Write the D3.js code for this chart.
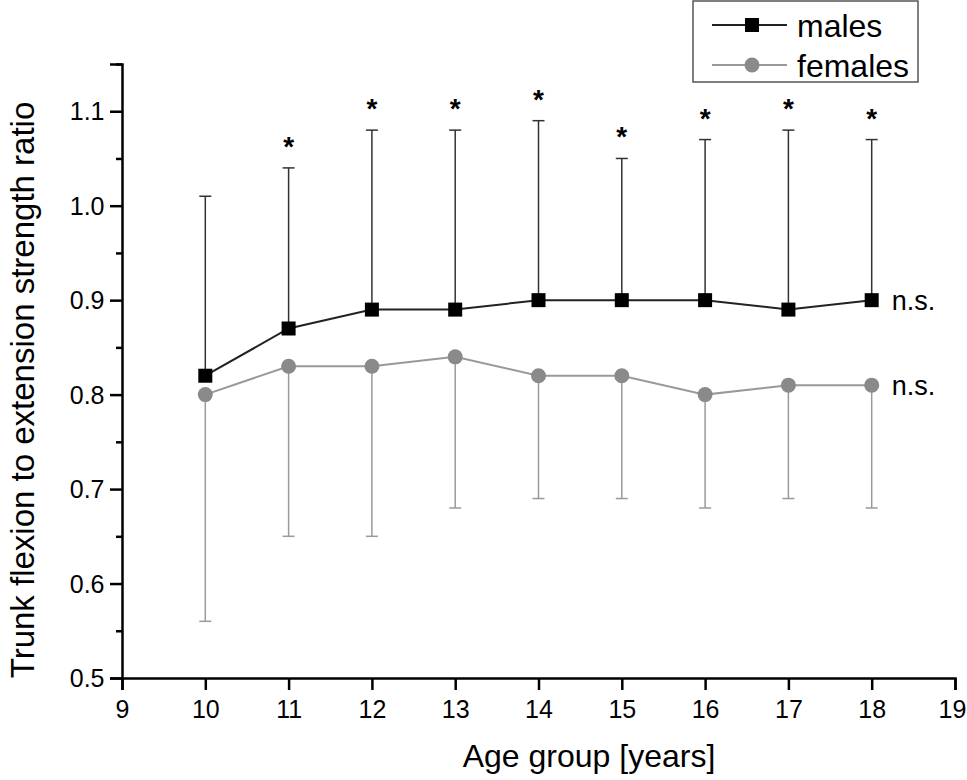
<!DOCTYPE html>
<html>
<head>
<meta charset="utf-8">
<script src="https://cdn.jsdelivr.net/npm/d3@7"></script>
<style>
  body { margin: 0; background: #fff; }
  text { font-family: "Liberation Sans", Arial, sans-serif; }
</style>
</head>
<body>
<svg id="chart" width="967" height="780"></svg>
<script>
// data
const ages = [10, 11, 12, 13, 14, 15, 16, 17, 18];
const malesMean = [0.82, 0.87, 0.89, 0.89, 0.90, 0.90, 0.90, 0.89, 0.90];
const malesUpper = [1.01, 1.04, 1.08, 1.08, 1.09, 1.05, 1.07, 1.08, 1.07];
const femalesMean = [0.80, 0.83, 0.83, 0.84, 0.82, 0.82, 0.80, 0.81, 0.81];
const femalesLower = [0.56, 0.65, 0.65, 0.68, 0.69, 0.69, 0.68, 0.69, 0.68];
const significant = [false, true, true, true, true, true, true, true, true];
const xTicks = [9, 10, 11, 12, 13, 14, 15, 16, 17, 18, 19];
const yTicks = [0.5, 0.6, 0.7, 0.8, 0.9, 1.0, 1.1];

const svg = d3.select('#chart');

const x = d3.scaleLinear().domain([9, 19]).range([122, 955]);
const y = d3.scaleLinear().domain([0.5, 1.15]).range([678, 64]);

const maleCol = '#000';
const femaleCol = '#8a8a8a';

const males = ages.map((a, i) => ({ age: a, v: malesMean[i], hi: malesUpper[i], sig: significant[i] }));
const females = ages.map((a, i) => ({ age: a, v: femalesMean[i], lo: femalesLower[i] }));

// axes
const xAxis = svg.append('g')
  .attr('transform', `translate(0, ${y(0.5)})`)
  .call(d3.axisBottom(x).tickValues(xTicks).tickFormat(d3.format('d')).tickSizeOuter(0).tickSize(12));

const yMinor = d3.range(0.55, 1.16, 0.1).map(d => +d.toFixed(2));
svg.append('g')
  .attr('transform', `translate(${x(9)}, 0)`)
  .call(d3.axisLeft(y).tickValues(yMinor).tickFormat('').tickSizeOuter(0).tickSize(6))
  .select('.domain').remove();

const yAxis = svg.append('g')
  .attr('transform', `translate(${x(9)}, 0)`)
  .call(d3.axisLeft(y).tickValues(yTicks).tickFormat(d3.format('.1f')).tickSizeOuter(0).tickSize(12));

svg.selectAll('.domain, .tick line').attr('stroke', '#000').attr('stroke-width', 2.5);
xAxis.selectAll('text').attr('font-size', 25).attr('dy', '1.0em').attr('fill', '#000');
// last label sits right at the page edge
xAxis.selectAll('.tick text').filter(d => d === 19).attr('dx', '-0.12em');
yAxis.selectAll('text').attr('font-size', 25).attr('dx', '-0.1em').attr('dy', '0.35em').attr('fill', '#000');
svg.selectAll('.tick text').attr('font-family', '"Liberation Sans", Arial, sans-serif');

// axis titles
svg.append('text')
  .attr('x', 589).attr('y', 767)
  .attr('text-anchor', 'middle')
  .attr('font-size', 32)
  .text('Age group [years]');

svg.append('text')
  .attr('transform', 'translate(34, 390) rotate(-90)')
  .attr('text-anchor', 'middle')
  .attr('font-size', 33)
  .text('Trunk flexion to extension strength ratio');

// error bars
const capW = 6;
const femErr = svg.append('g').attr('stroke', '#9a9a9a').attr('stroke-width', 1.5);
femErr.selectAll('.stem').data(females).enter().append('line')
  .attr('x1', d => x(d.age)).attr('x2', d => x(d.age))
  .attr('y1', d => y(d.v)).attr('y2', d => y(d.lo));
femErr.selectAll('.cap').data(females).enter().append('line')
  .attr('x1', d => x(d.age) - capW).attr('x2', d => x(d.age) + capW)
  .attr('y1', d => y(d.lo)).attr('y2', d => y(d.lo));

const maleErr = svg.append('g').attr('stroke', '#333').attr('stroke-width', 1.5);
maleErr.selectAll('.stem').data(males).enter().append('line')
  .attr('x1', d => x(d.age)).attr('x2', d => x(d.age))
  .attr('y1', d => y(d.v)).attr('y2', d => y(d.hi));
maleErr.selectAll('.cap').data(males).enter().append('line')
  .attr('x1', d => x(d.age) - capW).attr('x2', d => x(d.age) + capW)
  .attr('y1', d => y(d.hi)).attr('y2', d => y(d.hi));

// lines
const line = d3.line().x(d => x(d.age)).y(d => y(d.v));
svg.append('path').datum(females).attr('d', line)
  .attr('fill', 'none').attr('stroke', '#999').attr('stroke-width', 2);
svg.append('path').datum(males).attr('d', line)
  .attr('fill', 'none').attr('stroke', '#222').attr('stroke-width', 2);

// markers
svg.selectAll('.fem').data(females).enter().append('circle')
  .attr('cx', d => x(d.age)).attr('cy', d => y(d.v)).attr('r', 7.5)
  .attr('fill', femaleCol);
svg.selectAll('.mal').data(males).enter().append('rect')
  .attr('x', d => x(d.age) - 7).attr('y', d => y(d.v) - 7)
  .attr('width', 14).attr('height', 14)
  .attr('fill', maleCol);

// significance marks
svg.selectAll('.star').data(males.filter(d => d.sig)).enter().append('text')
  .attr('x', d => x(d.age)).attr('y', d => y(d.hi) - 12)
  .attr('text-anchor', 'middle')
  .attr('font-size', 28)
  .attr('font-weight', 'bold')
  .text('*');

svg.append('text').attr('x', x(18) + 20).attr('y', y(0.90)).attr('dy', '0.36em')
  .attr('font-size', 27).text('n.s.');
svg.append('text').attr('x', x(18) + 20).attr('y', y(0.81)).attr('dy', '0.36em')
  .attr('font-size', 27).text('n.s.');

// legend
const lg = svg.append('g');
lg.append('rect').attr('x', 693).attr('y', 1).attr('width', 225).attr('height', 81)
  .attr('fill', '#fff').attr('stroke', '#555').attr('stroke-width', 1.5);
const legendItems = [
  { name: 'males', col: maleCol, lineCol: '#222', shape: 'square', cy: 25 },
  { name: 'females', col: femaleCol, lineCol: '#999', shape: 'circle', cy: 65 }
];
legendItems.forEach(it => {
  lg.append('line').attr('x1', 712).attr('x2', 787).attr('y1', it.cy).attr('y2', it.cy)
    .attr('stroke', it.lineCol).attr('stroke-width', 2);
  if (it.shape === 'square') {
    lg.append('rect').attr('x', 745).attr('y', it.cy - 7).attr('width', 14).attr('height', 14).attr('fill', it.col);
  } else {
    lg.append('circle').attr('cx', 752).attr('cy', it.cy).attr('r', 7.5).attr('fill', it.col);
  }
  lg.append('text').attr('x', 797).attr('y', it.cy).attr('dy', '0.36em')
    .attr('font-size', 32).text(it.name);
});
</script>
</body>
</html>
